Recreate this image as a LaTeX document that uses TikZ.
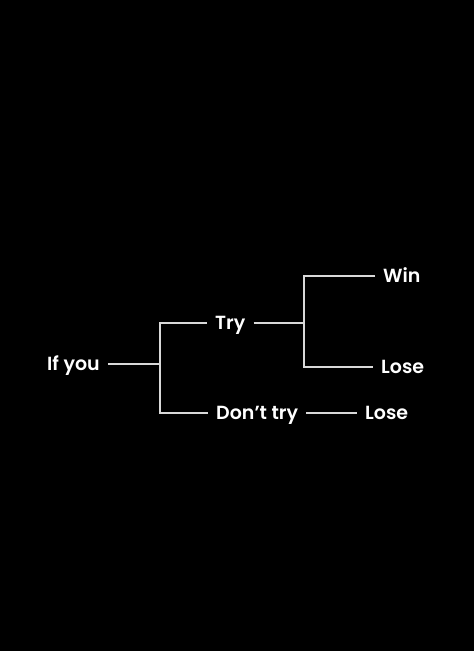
\documentclass[tikz,border=0pt]{standalone}
\usepackage{fontspec}
\setmainfont{Poppins}[BoldFont={* SemiBold}]
\usetikzlibrary{positioning}
\tikzset{
  word/.style={text=white,font=\fontsize{19}{21}\selectfont\bfseries,inner xsep=8pt,inner ysep=2pt,
    text height=12pt,text depth=0pt,anchor=west},
  branch/.style={draw=white!85!black,line width=1.4pt},
}
\begin{document}
\begin{tikzpicture}[x=1pt,y=-1pt]
  \fill[black] (0,0) rectangle (474,651);
  \useasboundingbox (0,0) rectangle (474,651);
  % the words
  \node[word] (ifyou) at (39,364) {If you};
  \node[word] (try) at (207,323) {Try};
  \node[word] (donttry) at (208,413) {Don’t try};
  \node[word] (win) at (375,276) {Win};
  \node[word] (lose) at (373,367) {Lose};
  \node[word] (lose2) at (357,413) {Lose};
  % split points
  \coordinate (j1) at (160,364);
  \coordinate (j2) at (304,323);
  \draw[branch] (ifyou) -- (j1);
  \draw[branch] (try.west) -| (j1) |- (donttry.west);
  \draw[branch] (try) -- (j2);
  \draw[branch] (win.west) -| (j2) |- (lose.west);
  \draw[branch] (donttry) -- (lose2);
\end{tikzpicture}
\end{document}
